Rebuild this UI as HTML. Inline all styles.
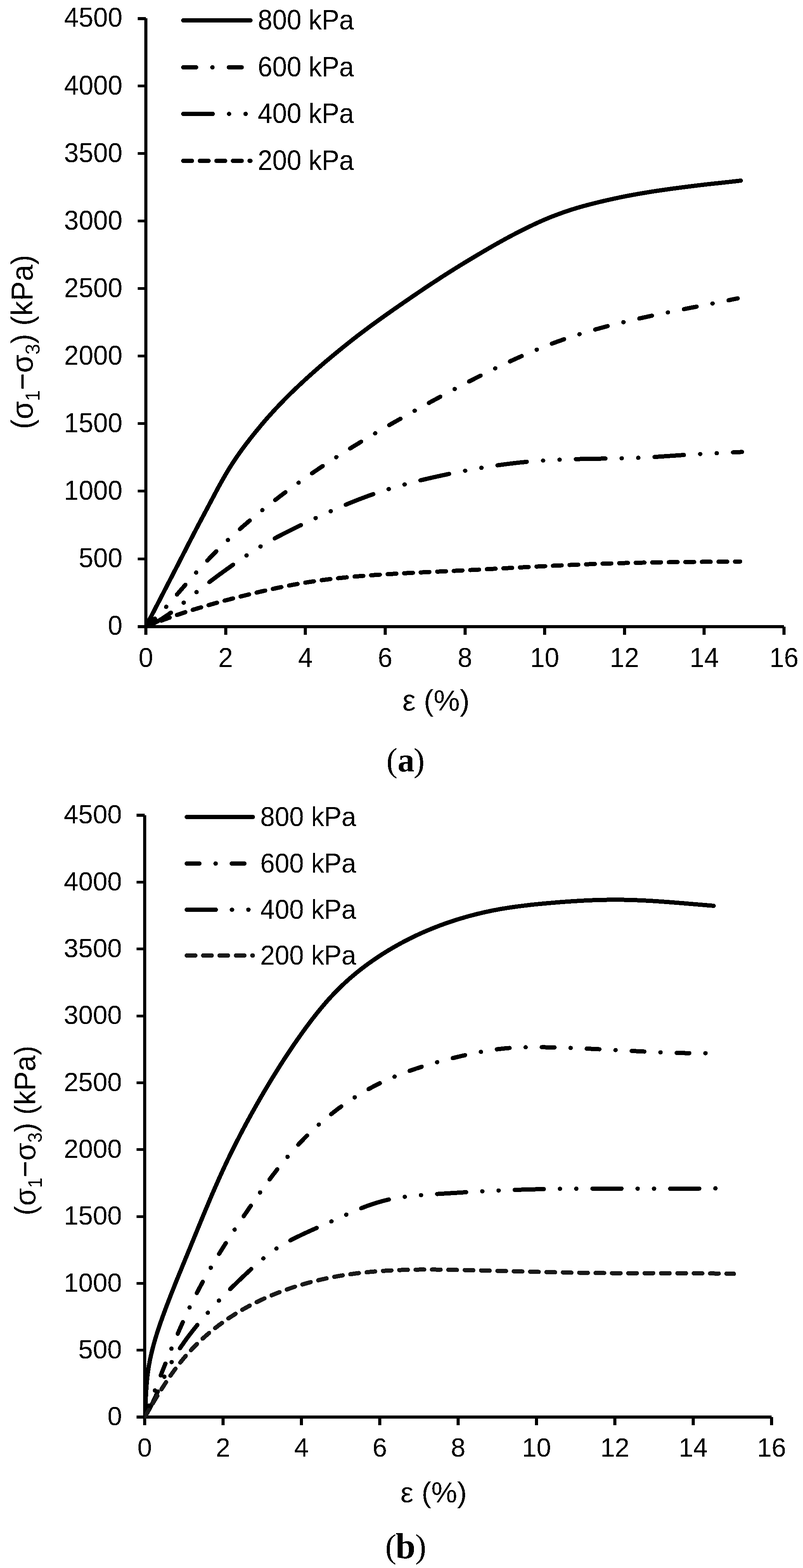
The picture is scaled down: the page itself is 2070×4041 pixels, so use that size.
<!DOCTYPE html>
<html lang="en"><head><meta charset="utf-8"><title>Figure</title>
<style>html,body{margin:0;padding:0;background:#fff}svg{display:block}</style></head><body>
<svg width="2070" height="4041" viewBox="0 0 2070 4041">
<defs><filter id="bw" x="0" y="0" width="2070" height="4041" filterUnits="userSpaceOnUse" color-interpolation-filters="sRGB"><feComponentTransfer><feFuncA type="discrete" tableValues="0 1"/></feComponentTransfer></filter></defs>
<rect width="2070" height="4041" fill="#fff"/>
<g id="axes-a" stroke="#000" stroke-width="8" fill="none" stroke-linecap="butt" shape-rendering="crispEdges">
<path d="M376 47V1636"/>
<path d="M355 1615H2021"/>
<path d="M355 1440.0H376M355 1265.9H376M355 1091.8H376M355 917.7H376M355 743.5H376M355 569.4H376M355 395.3H376M355 221.2H376" stroke-width="7"/>
<path d="M355 48H376M581.6 1615V1636M787.2 1615V1636M992.9 1615V1636M1198.5 1615V1636M1404.1 1615V1636M1609.8 1615V1636M1815.4 1615V1636M2021.0 1615V1636"/>
</g>
<g id="axes-b" stroke="#000" stroke-width="8" fill="none" stroke-linecap="butt" shape-rendering="crispEdges">
<path d="M373 2101V3673"/>
<path d="M352 3652H1989"/>
<path d="M352 3479.9H373M352 3307.5H373M352 3135.2H373M352 2962.9H373M352 2790.5H373M352 2618.2H373M352 2445.9H373M352 2273.5H373" stroke-width="7"/>
<path d="M352 2101H373M575.0 3652V3673M777.0 3652V3673M979.0 3652V3673M1181.0 3652V3673M1383.0 3652V3673M1585.0 3652V3673M1787.0 3652V3673M1989.0 3652V3673"/>
</g>
<g id="labels" filter="url(#bw)">
<g id="ticks-a" font-family="'Liberation Sans', sans-serif" font-size="67.5" fill="#000">
<g transform="scale(1 1.045)">
<g text-anchor="end">
<text x="315.5" y="1566.03">0</text>
<text x="315.5" y="1399.42">500</text>
<text x="315.5" y="1232.80">1000</text>
<text x="315.5" y="1066.19">1500</text>
<text x="315.5" y="899.57">2000</text>
<text x="315.5" y="732.96">2500</text>
<text x="315.5" y="566.35">3000</text>
<text x="315.5" y="399.73">3500</text>
<text x="315.5" y="233.12">4000</text>
<text x="315.5" y="66.51">4500</text>
</g><g text-anchor="middle">
<text x="376.0" y="1644.98">0</text>
<text x="581.6" y="1644.98">2</text>
<text x="787.2" y="1644.98">4</text>
<text x="992.9" y="1644.98">6</text>
<text x="1198.5" y="1644.98">8</text>
<text x="1404.1" y="1644.98">10</text>
<text x="1609.8" y="1644.98">12</text>
<text x="1815.4" y="1644.98">14</text>
<text x="2021.0" y="1644.98">16</text>
</g></g>
<g transform="scale(1 1.06)">
<text x="664.5" y="71.70">800 kPa</text>
<text x="664.5" y="185.85">600 kPa</text>
<text x="664.5" y="299.06">400 kPa</text>
<text x="664.5" y="413.21">200 kPa</text>
</g>
</g>
<text x="1124" y="1831" text-anchor="middle" font-family="'Liberation Sans', sans-serif" font-size="76" fill="#000">ε (%)</text>
<text transform="translate(84.3 881.5) rotate(-90) scale(1 1.02)" text-anchor="middle" font-family="'Liberation Sans', sans-serif" font-size="76.4" fill="#000">(σ<tspan font-size="50" dy="17">1</tspan><tspan dy="-17">−σ</tspan><tspan font-size="50" dy="17">3</tspan><tspan dy="-17">) (kPa)</tspan></text>
<text x="996" y="1988" font-family="'Liberation Serif', serif" fill="#000" font-size="86">(<tspan x="1024.7" y="1988" font-size="88" font-weight="bold">a</tspan><tspan x="1066" y="1988">)</tspan></text>
<g id="ticks-b" font-family="'Liberation Sans', sans-serif" font-size="67.3" fill="#000">
<g transform="scale(1 1.025)">
<g text-anchor="end">
<text x="314.3" y="3583.90">0</text>
<text x="314.3" y="3415.77">500</text>
<text x="314.3" y="3247.64">1000</text>
<text x="314.3" y="3079.51">1500</text>
<text x="314.3" y="2911.38">2000</text>
<text x="314.3" y="2743.25">2500</text>
<text x="314.3" y="2575.12">3000</text>
<text x="314.3" y="2406.99">3500</text>
<text x="314.3" y="2238.86">4000</text>
<text x="314.3" y="2070.73">4500</text>
</g><g text-anchor="middle">
<text x="373.0" y="3662.44">0</text>
<text x="575.0" y="3662.44">2</text>
<text x="777.0" y="3662.44">4</text>
<text x="979.0" y="3662.44">6</text>
<text x="1181.0" y="3662.44">8</text>
<text x="1383.0" y="3662.44">10</text>
<text x="1585.0" y="3662.44">12</text>
<text x="1787.0" y="3662.44">14</text>
<text x="1989.0" y="3662.44">16</text>
</g></g>
<g transform="scale(1 1.06)">
<text x="671" y="2008.30">800 kPa</text>
<text x="671" y="2121.51">600 kPa</text>
<text x="671" y="2233.77">400 kPa</text>
<text x="671" y="2345.09">200 kPa</text>
</g>
</g>
<text x="1118" y="3872" text-anchor="middle" font-family="'Liberation Sans', sans-serif" font-size="75" fill="#000">ε (%)</text>
<text transform="translate(90.7 2913.6) rotate(-90) scale(1 1.03)" text-anchor="middle" font-family="'Liberation Sans', sans-serif" font-size="74.5" fill="#000">(σ<tspan font-size="48.5" dy="16.5">1</tspan><tspan dy="-16.5">−σ</tspan><tspan font-size="48.5" dy="16.5">3</tspan><tspan dy="-16.5">) (kPa)</tspan></text>
<text x="993" y="4014.3" font-family="'Liberation Serif', serif" fill="#000" font-size="86.6">(<tspan x="1019.5" y="4016" font-size="92.5" font-weight="bold">b</tspan><tspan x="1070" y="4014.3">)</tspan></text>
</g>
<clipPath id="clipa"><rect x="375" y="8" width="1705" height="1611"/></clipPath>
<g id="series-a" fill="none" stroke="#000" stroke-width="11" stroke-linecap="round" stroke-linejoin="round" shape-rendering="crispEdges">
<path d="M472.5 52.5H645.5"/>
<path d="M376.0 1615.0C380.0 1607.3 384.0 1599.5 388.0 1591.8C392.0 1584.1 396.0 1576.3 400.0 1568.6C405.6 1557.8 411.1 1547.1 416.7 1536.3C422.2 1525.6 427.8 1514.8 433.3 1504.1C438.9 1493.3 444.4 1482.6 450.0 1471.8C455.0 1462.2 460.0 1452.5 464.9 1442.9C469.9 1433.2 474.8 1423.5 479.8 1413.9C484.7 1404.2 489.7 1394.6 494.7 1384.9C499.7 1375.3 504.7 1365.7 509.7 1356.0C514.8 1346.4 519.9 1336.9 525.0 1327.3C531.1 1316.0 537.1 1304.6 543.1 1293.3C549.1 1281.9 555.1 1270.5 561.2 1259.2C567.3 1247.9 573.6 1236.7 580.0 1225.6C586.4 1214.6 593.1 1203.7 600.0 1193.0C605.6 1184.4 611.4 1175.8 617.5 1167.4C623.5 1158.9 629.6 1150.5 636.0 1142.3C642.3 1134.0 648.7 1125.8 655.2 1117.7C661.8 1109.6 668.4 1101.6 675.0 1093.7C682.8 1084.4 690.9 1075.2 699.1 1066.1C707.3 1057.0 715.7 1048.0 724.2 1039.2C732.7 1030.4 741.3 1021.7 750.0 1013.2C759.5 1004.0 769.1 994.8 778.8 985.8C788.5 976.8 798.4 967.9 808.3 959.1C818.3 950.2 828.3 941.5 838.4 932.9C848.6 924.3 858.8 915.8 869.1 907.4C879.3 899.0 889.6 890.6 900.0 882.4C909.7 874.7 919.4 867.2 929.2 859.7C939.1 852.2 949.0 844.8 959.0 837.5C969.0 830.2 979.0 823.0 989.1 815.8C999.2 808.6 1009.3 801.5 1019.5 794.4C1029.6 787.3 1039.8 780.3 1050.0 773.3C1059.8 766.5 1069.7 759.8 1079.6 753.1C1089.5 746.4 1099.4 739.8 1109.3 733.2C1119.3 726.6 1129.3 720.1 1139.3 713.6C1149.4 707.1 1159.4 700.7 1169.5 694.4C1179.6 688.0 1189.8 681.8 1200.0 675.6C1209.8 669.7 1219.6 663.8 1229.5 657.9C1239.4 652.0 1249.3 646.2 1259.2 640.4C1269.2 634.6 1279.1 628.9 1289.2 623.3C1299.2 617.7 1309.3 612.2 1319.4 606.9C1329.6 601.5 1339.7 596.3 1350.0 591.2C1358.2 587.2 1366.4 583.1 1374.7 579.2C1382.9 575.3 1391.3 571.5 1399.7 567.8C1408.1 564.2 1416.5 560.7 1425.0 557.4C1437.3 552.7 1449.7 548.1 1462.2 543.9C1474.7 539.7 1487.3 535.8 1500.0 532.3C1512.3 528.9 1524.7 525.7 1537.1 522.6C1549.5 519.5 1562.0 516.6 1574.6 513.8C1587.1 511.0 1599.7 508.4 1612.2 505.9C1624.8 503.4 1637.4 501.1 1650.0 498.9C1662.4 496.8 1674.9 494.7 1687.3 492.8C1699.8 490.9 1712.3 489.1 1724.8 487.4C1737.3 485.6 1749.9 484.0 1762.4 482.4C1774.9 480.8 1787.5 479.2 1800.0 477.7C1808.9 476.6 1817.8 475.6 1826.6 474.6C1835.5 473.7 1844.4 472.7 1853.3 471.8C1862.2 470.9 1871.1 469.9 1880.0 468.9C1889.8 467.8 1899.7 466.6 1909.5 465.5" clip-path="url(#clipa)"/>
<path d="M472.5 173.5H645.5" stroke-dasharray="33.18 41.89 0.40 41.89"/>
<path d="M376.0 1615.0C380.8 1611.1 385.4 1607.1 389.9 1603.0C394.4 1598.9 398.9 1594.7 403.2 1590.4C404.4 1589.2 405.6 1588.0 406.8 1586.8C409.9 1583.8 412.9 1580.6 415.9 1577.5C420.1 1573.1 424.2 1568.7 428.2 1564.2C430.5 1561.8 432.7 1559.2 434.9 1556.7C436.7 1554.7 438.5 1552.8 440.2 1550.8C444.2 1546.2 448.1 1541.7 452.0 1537.1C455.3 1533.3 458.6 1529.4 461.9 1525.6C462.6 1524.9 463.2 1524.1 463.8 1523.4C467.8 1518.8 471.7 1514.2 475.7 1509.7C479.6 1505.1 483.6 1500.5 487.6 1496.0C488.1 1495.4 488.6 1494.9 489.0 1494.4C492.6 1490.4 496.1 1486.3 499.7 1482.4C503.7 1477.8 507.8 1473.3 511.9 1468.8C513.5 1467.0 515.1 1465.3 516.8 1463.5C526.1 1453.3 535.6 1443.2 545.3 1433.2C554.9 1423.3 564.8 1413.5 574.7 1403.9C584.7 1394.3 594.8 1384.8 605.1 1375.5C615.3 1366.2 625.7 1357.0 636.2 1348.0C646.7 1339.0 657.3 1330.1 668.0 1321.4C678.7 1312.6 689.5 1304.0 700.5 1295.5C711.4 1287.0 722.4 1278.6 733.4 1270.4C744.5 1262.1 755.7 1254.0 766.9 1246.0C778.1 1238.0 789.4 1230.1 800.7 1222.2C812.1 1214.4 823.5 1206.7 835.0 1199.1C846.5 1191.5 858.0 1184.0 869.6 1176.6C881.3 1169.1 892.9 1161.8 904.6 1154.5C916.3 1147.3 928.1 1140.1 939.9 1133.0C951.8 1125.8 963.6 1118.8 975.5 1111.8C987.4 1104.8 999.4 1097.9 1011.4 1091.0C1023.4 1084.2 1035.4 1077.4 1047.4 1070.6C1059.5 1063.8 1071.6 1057.1 1083.7 1050.4C1095.8 1043.8 1108.0 1037.1 1120.2 1030.5C1132.3 1023.9 1144.5 1017.3 1156.8 1010.8C1169.0 1004.2 1181.2 997.7 1193.5 991.3C1205.8 984.9 1218.1 978.5 1230.5 972.3C1242.9 966.0 1255.3 959.8 1267.7 953.7C1280.1 947.6 1292.6 941.7 1305.1 935.8C1317.7 930.0 1330.2 924.2 1342.9 918.6C1355.5 913.0 1368.2 907.6 1380.9 902.3C1393.6 897.0 1406.4 891.9 1419.2 887.0C1432.1 882.1 1445.0 877.5 1458.0 873.0C1470.9 868.5 1484.0 864.3 1497.1 860.2C1510.2 856.2 1523.3 852.3 1536.6 848.6C1549.8 844.9 1563.2 841.3 1576.5 837.9C1589.9 834.4 1603.4 831.1 1616.9 827.9C1630.4 824.7 1643.9 821.6 1657.5 818.7C1671.1 815.7 1684.7 812.7 1698.3 809.9C1711.9 807.0 1725.6 804.3 1739.2 801.5C1752.8 798.8 1766.4 796.1 1780.0 793.4C1793.7 790.7 1807.2 788.0 1820.8 785.3C1834.3 782.6 1847.8 780.0 1861.3 777.2C1874.7 774.5 1888.1 771.8 1901.5 769.0" stroke-dasharray="33.18 41.89 0.40 41.89" stroke-dashoffset="2.0" clip-path="url(#clipa)"/>
<path d="M472.5 293.5H645.5" stroke-dasharray="75.86 41.89 0.40 42.28 0.40 41.89"/>
<path d="M376.0 1615.0C381.7 1612.9 387.3 1610.6 392.7 1608.1C398.2 1605.5 403.5 1602.7 408.8 1599.7C410.1 1598.9 411.5 1598.2 412.8 1597.4C416.7 1595.1 420.5 1592.7 424.2 1590.2C429.3 1586.9 434.3 1583.5 439.2 1579.9C441.8 1578.0 444.3 1576.1 446.8 1574.2C449.2 1572.5 451.5 1570.7 453.8 1568.9C458.7 1565.1 463.4 1561.3 468.2 1557.4C471.9 1554.5 475.5 1551.5 479.2 1548.4C480.2 1547.6 481.3 1546.7 482.3 1545.9C487.0 1542.0 491.7 1538.1 496.4 1534.3C501.1 1530.5 505.8 1526.6 510.5 1522.9C510.7 1522.7 510.9 1522.6 511.1 1522.4C515.6 1518.8 520.2 1515.2 524.7 1511.6C529.5 1507.9 534.3 1504.2 539.1 1500.6C540.5 1499.5 541.9 1498.4 543.3 1497.3C554.2 1489.1 565.1 1481.1 576.2 1473.1C587.2 1465.1 598.4 1457.2 609.7 1449.2C621.0 1441.3 632.4 1433.5 644.0 1425.9C655.5 1418.3 667.2 1410.9 678.9 1404.0C690.7 1397.0 702.6 1390.5 714.5 1384.1C726.5 1377.7 738.5 1371.6 750.7 1365.6C762.8 1359.5 775.1 1353.6 787.4 1347.6C799.7 1341.7 812.1 1335.8 824.6 1330.1C837.1 1324.3 849.6 1318.6 862.3 1313.1C874.9 1307.6 887.6 1302.2 900.4 1297.0C913.1 1291.7 926.0 1286.7 938.8 1281.9C951.7 1277.1 964.7 1272.6 977.7 1268.3C990.7 1263.9 1003.7 1259.9 1016.9 1256.0C1030.0 1252.1 1043.1 1248.5 1056.3 1245.0C1069.5 1241.5 1082.8 1238.2 1096.1 1235.0C1109.3 1231.9 1122.7 1228.8 1136.0 1226.0C1149.4 1223.1 1162.7 1220.3 1176.2 1217.6C1189.6 1214.9 1203.0 1212.4 1216.5 1209.9C1229.9 1207.5 1243.4 1205.2 1257.0 1203.1C1270.5 1200.9 1284.0 1198.9 1297.6 1197.1C1311.1 1195.3 1324.7 1193.7 1338.3 1192.2C1351.9 1190.8 1365.5 1189.5 1379.2 1188.5C1392.8 1187.4 1406.4 1186.5 1420.1 1185.8C1433.8 1185.1 1447.4 1184.5 1461.1 1184.0C1474.8 1183.5 1488.5 1183.2 1502.2 1182.8C1515.9 1182.5 1529.6 1182.3 1543.3 1182.1C1557.0 1181.8 1570.7 1181.7 1584.4 1181.4C1598.2 1181.2 1611.9 1180.9 1625.6 1180.5C1639.3 1180.1 1653.0 1179.5 1666.7 1178.8C1680.5 1178.1 1694.2 1177.2 1707.9 1176.3C1721.6 1175.3 1735.3 1174.4 1749.0 1173.5C1762.7 1172.5 1776.3 1171.7 1790.0 1170.9C1803.7 1170.2 1817.3 1169.5 1831.0 1168.8C1844.6 1168.1 1858.3 1167.5 1871.9 1166.8C1885.5 1166.2 1899.1 1165.5 1912.7 1164.8" stroke-dasharray="75.86 41.89 0.40 42.28 0.40 41.89" stroke-dashoffset="1.8" clip-path="url(#clipa)"/>
<path d="M472.5 414.5H645.5" stroke-dasharray="22.51 20.17"/>
<path d="M376.0 1615.0C381.7 1612.7 387.4 1610.4 393.0 1608.2C398.7 1605.9 404.4 1603.7 410.1 1601.6C411.9 1600.9 413.6 1600.2 415.3 1599.6C419.3 1598.1 423.3 1596.6 427.3 1595.2C433.0 1593.1 438.7 1591.1 444.5 1589.1C448.0 1587.8 451.4 1586.6 454.9 1585.4C457.2 1584.7 459.4 1583.9 461.7 1583.1C467.4 1581.2 473.2 1579.3 479.0 1577.4C484.2 1575.7 489.5 1574.0 494.8 1572.4C495.3 1572.2 495.8 1572.1 496.3 1571.9C502.1 1570.1 507.9 1568.3 513.7 1566.6C519.4 1564.8 525.2 1563.1 531.1 1561.4C532.3 1561.0 533.6 1560.6 534.8 1560.3C539.4 1559.0 543.9 1557.7 548.5 1556.4C554.3 1554.7 560.1 1553.1 566.0 1551.5C569.0 1550.7 572.1 1549.8 575.1 1549.0C588.6 1545.4 602.1 1541.9 615.6 1538.4C629.1 1535.0 642.7 1531.7 656.2 1528.4C669.8 1525.2 683.4 1522.0 697.1 1519.0C710.7 1516.0 724.4 1513.1 738.1 1510.4C751.7 1507.7 765.5 1505.2 779.2 1502.8C792.9 1500.5 806.7 1498.4 820.5 1496.4C834.2 1494.5 848.0 1492.7 861.9 1491.2C875.7 1489.6 889.5 1488.2 903.4 1486.9C917.2 1485.6 931.1 1484.5 945.0 1483.4C958.8 1482.4 972.7 1481.4 986.6 1480.5C1000.6 1479.7 1014.5 1478.9 1028.4 1478.1C1042.3 1477.3 1056.3 1476.6 1070.2 1475.9C1084.2 1475.2 1098.1 1474.6 1112.1 1473.9C1126.0 1473.3 1140.0 1472.6 1154.0 1472.0C1167.9 1471.3 1181.9 1470.6 1195.9 1469.9C1209.8 1469.3 1223.8 1468.5 1237.8 1467.8C1251.8 1467.1 1265.7 1466.4 1279.7 1465.6C1293.7 1464.9 1307.7 1464.1 1321.7 1463.4C1335.6 1462.6 1349.6 1461.9 1363.6 1461.2C1377.6 1460.5 1391.6 1459.7 1405.5 1459.0C1419.5 1458.3 1433.5 1457.7 1447.5 1457.0C1461.4 1456.4 1475.4 1455.7 1489.4 1455.2C1503.4 1454.6 1517.4 1454.0 1531.3 1453.5C1545.3 1453.0 1559.3 1452.5 1573.2 1452.1C1587.2 1451.6 1601.2 1451.3 1615.1 1450.9C1629.1 1450.6 1643.1 1450.3 1657.0 1450.0C1671.0 1449.7 1685.0 1449.5 1698.9 1449.3C1712.9 1449.1 1726.8 1448.9 1740.8 1448.7C1754.7 1448.5 1768.7 1448.4 1782.6 1448.3C1796.5 1448.1 1810.5 1448.0 1824.4 1447.9C1838.3 1447.8 1852.3 1447.7 1866.2 1447.5C1880.1 1447.4 1894.0 1447.3 1907.9 1447.2" stroke-dasharray="22.51 20.17" stroke-dashoffset="-0.4" clip-path="url(#clipa)"/>
</g>
<clipPath id="clipb"><rect x="372" y="2061" width="1676" height="1595"/></clipPath>
<g id="series-b" fill="none" stroke="#000" stroke-width="11" stroke-linecap="round" stroke-linejoin="round" shape-rendering="crispEdges">
<path d="M481.5 2105.5H652.0"/>
<path d="M373.0 3652.0C373.5 3645.8 373.8 3639.7 374.2 3633.5C374.5 3627.4 374.9 3621.3 375.2 3615.2C375.2 3613.7 375.3 3612.1 375.4 3610.6C375.6 3606.0 375.9 3601.5 376.1 3597.0C376.4 3590.9 376.8 3584.9 377.2 3578.9C377.4 3575.8 377.6 3572.8 377.8 3569.7C378.1 3566.8 378.3 3563.8 378.6 3560.9C379.1 3554.9 379.8 3548.9 380.5 3543.0C381.0 3538.4 381.6 3533.9 382.3 3529.4C382.5 3528.0 382.7 3526.6 382.9 3525.1C383.9 3519.2 384.9 3513.3 386.1 3507.4C387.3 3501.5 388.5 3495.7 389.9 3489.8C389.9 3489.7 389.9 3489.7 389.9 3489.6C391.3 3483.8 392.7 3478.0 394.2 3472.3C395.8 3466.4 397.4 3460.6 399.1 3454.8C399.5 3453.3 400.0 3451.7 400.4 3450.2C404.3 3437.1 408.6 3424.1 413.0 3411.2C417.5 3398.2 422.2 3385.3 427.0 3372.5C431.8 3359.6 436.7 3346.8 441.7 3334.1C446.7 3321.3 451.8 3308.6 456.9 3295.8C462.1 3283.1 467.3 3270.5 472.5 3257.8C477.7 3245.1 482.9 3232.5 488.1 3219.9C493.3 3207.2 498.5 3194.6 503.6 3182.0C508.8 3169.4 513.9 3156.8 519.1 3144.2C524.3 3131.6 529.5 3119.1 534.8 3106.6C540.0 3094.0 545.3 3081.5 550.7 3069.1C556.2 3056.6 561.6 3044.2 567.2 3031.7C572.8 3019.3 578.5 3007.0 584.4 2994.6C590.2 2982.3 596.2 2970.0 602.3 2957.8C608.5 2945.5 614.7 2933.3 621.0 2921.2C627.4 2909.1 633.8 2897.0 640.4 2884.9C647.0 2872.9 653.6 2860.9 660.4 2849.0C667.1 2837.1 674.0 2825.2 680.9 2813.4C687.9 2801.6 694.9 2789.9 702.0 2778.3C709.2 2766.6 716.4 2755.0 723.7 2743.5C731.1 2732.0 738.5 2720.6 746.1 2709.3C753.7 2697.9 761.4 2686.7 769.2 2675.5C777.1 2664.3 785.0 2653.2 793.2 2642.3C801.3 2631.3 809.6 2620.5 818.1 2609.9C826.6 2599.2 835.4 2588.8 844.4 2578.6C853.5 2568.4 862.8 2558.5 872.5 2548.9C882.1 2539.3 892.1 2530.0 902.4 2521.0C912.7 2512.1 923.2 2503.4 934.1 2495.1C944.9 2486.8 956.0 2478.8 967.3 2471.1C978.6 2463.4 990.1 2456.0 1001.8 2448.9C1013.5 2441.9 1025.4 2435.1 1037.5 2428.7C1049.5 2422.2 1061.8 2416.1 1074.2 2410.3C1086.6 2404.5 1099.1 2399.0 1111.8 2393.9C1124.5 2388.7 1137.3 2383.8 1150.2 2379.3C1163.1 2374.7 1176.1 2370.5 1189.2 2366.6C1202.3 2362.7 1215.5 2359.1 1228.7 2355.8C1242.0 2352.5 1255.3 2349.5 1268.6 2346.8C1282.0 2344.2 1295.4 2341.8 1308.8 2339.7C1322.2 2337.6 1335.7 2335.8 1349.2 2334.2C1362.7 2332.5 1376.2 2331.0 1389.8 2329.7C1403.4 2328.4 1416.9 2327.2 1430.5 2326.1C1444.1 2324.9 1457.8 2323.9 1471.4 2323.0C1485.1 2322.1 1498.7 2321.3 1512.4 2320.6C1526.0 2320.0 1539.7 2319.5 1553.4 2319.2C1567.1 2318.9 1580.8 2318.8 1594.5 2318.8C1608.1 2318.9 1621.8 2319.2 1635.5 2319.7C1649.2 2320.2 1662.9 2320.9 1676.5 2321.6C1690.2 2322.4 1703.9 2323.4 1717.5 2324.4C1731.1 2325.4 1744.8 2326.5 1758.4 2327.6C1772.0 2328.7 1785.5 2329.9 1799.1 2331.0C1812.6 2332.2 1826.2 2333.3 1839.7 2334.4" clip-path="url(#clipb)"/>
<path d="M481.5 2225.5H652.0" stroke-dasharray="32.68 41.46 0.40 41.46"/>
<path d="M373.0 3652.0C375.2 3646.4 377.4 3640.7 379.5 3635.1C381.7 3629.4 383.9 3623.8 386.1 3618.1C386.6 3616.6 387.2 3615.1 387.8 3613.6C389.4 3609.5 391.0 3605.3 392.6 3601.2C394.8 3595.5 396.9 3589.8 399.1 3584.2C400.3 3581.2 401.4 3578.2 402.6 3575.2C403.6 3572.5 404.6 3569.9 405.7 3567.2C407.8 3561.6 410.0 3555.9 412.2 3550.2C414.0 3545.8 415.7 3541.3 417.5 3536.8C417.9 3535.6 418.4 3534.5 418.8 3533.3C421.1 3527.7 423.3 3522.0 425.5 3516.4C427.8 3510.7 430.0 3505.1 432.3 3499.5C432.4 3499.2 432.5 3498.8 432.7 3498.5C434.8 3493.2 436.9 3487.9 439.1 3482.6C441.4 3477.0 443.7 3471.4 446.0 3465.8C446.8 3464.0 447.5 3462.2 448.3 3460.4C453.6 3447.8 459.0 3435.2 464.5 3422.6C470.0 3410.0 475.7 3397.6 481.5 3385.1C487.3 3372.7 493.2 3360.4 499.3 3348.1C505.5 3335.8 511.8 3323.7 518.3 3311.6C524.8 3299.5 531.4 3287.6 538.3 3275.7C545.2 3263.8 552.2 3252.0 559.4 3240.3C566.5 3228.5 573.8 3216.9 581.2 3205.3C588.6 3193.7 596.1 3182.2 603.7 3170.7C611.3 3159.2 619.0 3147.8 626.7 3136.5C634.4 3125.1 642.2 3113.8 650.0 3102.5C657.8 3091.2 665.6 3080.0 673.6 3068.8C681.6 3057.7 689.6 3046.6 697.9 3035.7C706.1 3024.8 714.4 3014.0 723.0 3003.3C731.5 2992.7 740.3 2982.2 749.3 2971.9C758.2 2961.5 767.4 2951.4 776.9 2941.5C786.4 2931.6 796.2 2921.9 806.2 2912.5C816.2 2903.1 826.5 2893.9 837.1 2885.0C847.6 2876.1 858.4 2867.5 869.4 2859.2C880.4 2850.9 891.7 2842.9 903.2 2835.3C914.6 2827.7 926.3 2820.4 938.2 2813.6C950.0 2806.7 962.1 2800.2 974.3 2794.1C986.6 2788.0 999.0 2782.3 1011.6 2777.0C1024.1 2771.7 1036.9 2766.7 1049.7 2762.0C1062.6 2757.3 1075.5 2752.9 1088.6 2748.8C1101.7 2744.6 1114.9 2740.8 1128.1 2737.1C1141.4 2733.4 1154.7 2730.0 1168.1 2726.7C1181.5 2723.4 1194.9 2720.2 1208.4 2717.3C1221.9 2714.3 1235.4 2711.6 1248.9 2709.2C1262.5 2706.8 1276.0 2704.7 1289.6 2703.2C1303.2 2701.6 1316.9 2700.5 1330.5 2699.8C1344.2 2699.1 1357.8 2698.8 1371.5 2698.8C1385.2 2698.7 1398.9 2698.9 1412.6 2699.1C1426.3 2699.4 1440.0 2699.7 1453.7 2700.2C1467.4 2700.6 1481.1 2701.1 1494.8 2701.7C1508.5 2702.3 1522.3 2702.9 1536.0 2703.6C1549.7 2704.3 1563.4 2705.0 1577.1 2705.7C1590.9 2706.4 1604.6 2707.1 1618.3 2707.9C1632.0 2708.6 1645.8 2709.3 1659.5 2710.0C1673.2 2710.7 1686.9 2711.4 1700.6 2712.0C1714.4 2712.6 1728.1 2713.1 1741.8 2713.5C1755.5 2713.9 1769.2 2714.2 1782.9 2714.3C1796.6 2714.4 1810.3 2714.4 1824.0 2714.2" stroke-dasharray="32.68 41.46 0.40 41.46" stroke-dashoffset="1.0" clip-path="url(#clipb)"/>
<path d="M481.5 2344.5H652.0" stroke-dasharray="74.86 41.46 0.40 41.78 0.40 41.46"/>
<path d="M373.0 3652.0C376.3 3646.9 379.3 3641.7 382.3 3636.4C385.2 3631.2 388.1 3625.8 390.8 3620.4C391.5 3619.0 392.2 3617.6 392.9 3616.2C394.9 3612.2 396.8 3608.1 398.7 3604.1C401.2 3598.6 403.7 3593.0 406.2 3587.5C407.5 3584.6 408.7 3581.7 410.0 3578.9C411.2 3576.2 412.4 3573.5 413.5 3570.8C416.0 3565.2 418.4 3559.6 420.9 3554.1C422.9 3549.8 424.8 3545.5 426.8 3541.2C427.4 3540.0 428.0 3538.7 428.6 3537.5C431.2 3532.0 433.9 3526.5 436.7 3521.1C439.4 3515.7 442.3 3510.3 445.3 3505.0C445.4 3504.9 445.5 3504.7 445.5 3504.6C448.4 3499.4 451.4 3494.4 454.5 3489.4C457.7 3484.2 460.9 3479.1 464.3 3474.1C465.2 3472.6 466.2 3471.2 467.2 3469.8C474.9 3458.5 482.9 3447.4 491.3 3436.6C499.6 3425.8 508.2 3415.2 517.0 3404.8C525.8 3394.3 534.8 3384.1 543.9 3374.0C553.1 3363.9 562.4 3353.9 571.9 3344.1C581.4 3334.2 591.0 3324.5 600.8 3314.9C610.6 3305.3 620.5 3295.8 630.5 3286.4C640.6 3277.0 650.7 3267.6 661.0 3258.5C671.3 3249.3 681.8 3240.4 692.6 3232.1C703.4 3223.8 714.6 3216.1 726.2 3209.2C737.8 3202.2 749.8 3195.9 762.0 3189.8C774.2 3183.8 786.6 3178.0 799.1 3172.3C811.6 3166.7 824.2 3161.1 836.8 3155.6C849.4 3150.0 861.9 3144.4 874.4 3138.7C886.9 3133.0 899.3 3127.4 911.9 3121.9C924.5 3116.5 937.2 3111.3 950.2 3106.6C963.1 3101.9 976.2 3097.8 989.5 3094.5C1002.7 3091.1 1016.0 3088.5 1029.4 3086.4C1042.9 3084.3 1056.3 3082.7 1069.9 3081.4C1083.4 3080.1 1097.0 3079.1 1110.7 3078.2C1124.3 3077.3 1138.0 3076.5 1151.7 3075.6C1165.4 3074.8 1179.1 3073.9 1192.9 3073.1C1206.6 3072.2 1220.3 3071.4 1234.0 3070.7C1247.8 3069.9 1261.5 3069.3 1275.1 3068.6C1288.8 3068.0 1302.5 3067.5 1316.2 3067.0C1329.8 3066.4 1343.5 3066.0 1357.1 3065.6C1370.8 3065.2 1384.4 3064.9 1398.1 3064.6C1411.7 3064.3 1425.3 3064.1 1439.0 3063.9C1452.7 3063.7 1466.3 3063.6 1480.0 3063.5C1493.7 3063.4 1507.3 3063.3 1521.0 3063.3C1534.7 3063.2 1548.4 3063.2 1562.1 3063.2C1575.8 3063.2 1589.5 3063.2 1603.2 3063.3C1616.9 3063.3 1630.6 3063.3 1644.3 3063.4C1658.0 3063.4 1671.7 3063.4 1685.4 3063.4C1699.1 3063.5 1712.7 3063.5 1726.4 3063.5C1740.1 3063.4 1753.8 3063.4 1767.5 3063.3C1781.2 3063.3 1794.8 3063.2 1808.5 3063.0C1822.2 3062.9 1835.8 3062.7 1849.5 3062.5" stroke-dasharray="74.86 41.46 0.40 41.78 0.40 41.46" stroke-dashoffset="0.8" clip-path="url(#clipb)"/>
<path d="M481.5 2462.5H652.0" stroke-dasharray="22.13 20.05" stroke="#1a1a1a"/>
<path d="M373.0 3652.0C376.1 3646.8 379.1 3641.6 382.2 3636.4C385.3 3631.2 388.4 3626.0 391.5 3620.7C392.4 3619.2 393.3 3617.7 394.2 3616.2C396.4 3612.5 398.6 3608.8 400.9 3605.1C404.0 3599.9 407.2 3594.7 410.4 3589.6C412.3 3586.6 414.1 3583.6 416.0 3580.7C417.4 3578.5 418.8 3576.3 420.2 3574.2C423.5 3569.0 426.8 3564.0 430.2 3558.9C433.1 3554.6 436.0 3550.2 439.0 3545.9C439.5 3545.3 440.0 3544.6 440.5 3543.9C443.9 3538.9 447.5 3534.0 451.1 3529.1C454.7 3524.3 458.4 3519.5 462.1 3514.7C462.7 3514.0 463.2 3513.3 463.8 3512.6C467.0 3508.5 470.3 3504.6 473.6 3500.6C477.5 3496.0 481.5 3491.5 485.5 3487.0C487.3 3485.0 489.1 3483.1 490.9 3481.1C500.3 3471.0 510.1 3461.3 520.3 3451.9C530.5 3442.5 541.0 3433.5 551.8 3424.9C562.7 3416.3 573.8 3408.1 585.2 3400.3C596.7 3392.5 608.4 3385.0 620.3 3378.0C632.2 3371.0 644.4 3364.4 656.8 3358.2C669.2 3352.0 681.7 3346.1 694.5 3340.6C707.3 3335.2 720.2 3330.1 733.3 3325.4C746.3 3320.6 759.5 3316.2 772.9 3312.2C786.2 3308.2 799.6 3304.5 813.1 3301.2C826.6 3297.8 840.2 3294.8 853.9 3292.1C867.5 3289.5 881.2 3287.1 894.8 3285.1C908.5 3283.0 922.3 3281.2 936.0 3279.7C949.7 3278.2 963.5 3277.0 977.3 3276.0C991.1 3275.0 1004.9 3274.2 1018.7 3273.6C1032.5 3273.0 1046.4 3272.6 1060.2 3272.3C1074.1 3272.0 1087.9 3271.9 1101.8 3271.9C1115.6 3271.9 1129.5 3272.0 1143.4 3272.2C1157.3 3272.4 1171.2 3272.6 1185.0 3272.9C1198.9 3273.2 1212.8 3273.5 1226.7 3273.8C1240.5 3274.2 1254.4 3274.5 1268.3 3274.9C1282.1 3275.2 1296.0 3275.6 1309.9 3275.9C1323.7 3276.3 1337.6 3276.6 1351.5 3277.0C1365.3 3277.3 1379.2 3277.7 1393.0 3278.0C1406.9 3278.3 1420.8 3278.6 1434.6 3278.9C1448.5 3279.2 1462.3 3279.5 1476.2 3279.8C1490.0 3280.0 1503.9 3280.2 1517.7 3280.4C1531.6 3280.6 1545.4 3280.8 1559.3 3280.9C1573.2 3281.0 1587.0 3281.1 1600.9 3281.2C1614.7 3281.2 1628.6 3281.3 1642.4 3281.3C1656.3 3281.3 1670.1 3281.3 1684.0 3281.3C1697.9 3281.4 1711.7 3281.4 1725.6 3281.4C1739.4 3281.4 1753.3 3281.4 1767.2 3281.5C1781.0 3281.5 1794.9 3281.6 1808.8 3281.7C1822.6 3281.8 1836.5 3281.9 1850.4 3282.1C1864.2 3282.2 1878.1 3282.4 1892.0 3282.7" stroke-dasharray="22.13 20.05" stroke-dashoffset="0.8" stroke="#1a1a1a" clip-path="url(#clipb)"/>
</g>
</svg></body></html>
